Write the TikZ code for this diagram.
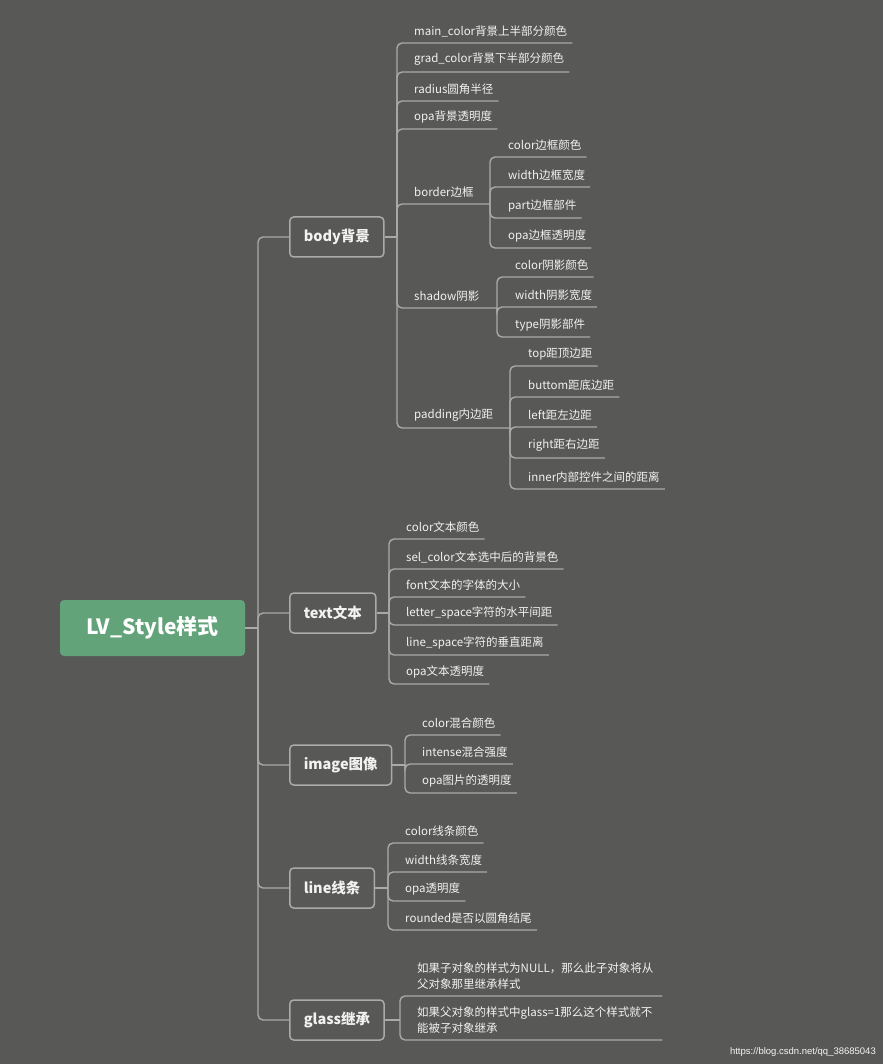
\documentclass[tikz,border=0pt]{standalone}
\usepackage{fontspec}
\setmainfont{Noto Sans CJK SC}
\newfontfamily\wm{Liberation Sans}
\definecolor{bg}{RGB}{88,89,86}
\definecolor{ln}{RGB}{170,170,168}
\definecolor{tx}{RGB}{242,242,240}
\definecolor{rootc}{RGB}{99,163,122}
\tikzset{
 conn/.style={draw=ln,line width=1.4pt,rounded corners=5pt},
 lf/.style={anchor=south west,inner xsep=0pt,inner ysep=6pt,text=tx,font=\fontsize{11.5}{13}\selectfont},
 lone/.style={anchor=west,draw=ln,line width=1.5pt,rounded corners=4pt,fill=bg,text=tx,minimum height=40pt,inner xsep=14pt,font=\fontsize{14.5}{16}\selectfont\bfseries},
}
\newcommand\lf[4]{\node[lf] (#1) at (#2,#3) {#4};}
\begin{document}
\begin{tikzpicture}[x=1pt,y=-1pt]
\fill[bg] (0,0) rectangle (883,1064);
\useasboundingbox (0,0) rectangle (883,1064);
\node[fill=rootc,rounded corners=4pt,minimum width=185pt,minimum height=56pt,text=white,font=\fontsize{21}{24}\selectfont\bfseries] (root) at (152.5,628) {LV\_Style样式};
\node[lone] (body) at (289,237) {body背景};
\node[lone] (text) at (289,613) {text文本};
\node[lone] (image) at (289,765) {image图像};
\node[lone] (line) at (289,888) {line线条};
\node[lone] (glass) at (289,1020) {glass继承};
\coordinate (mb) at (258,628);
\draw[conn] (root.east) -- (mb);
\foreach \n in {body,text,image,line,glass}{\draw[conn] (mb) |- (\n.west);}
% body
\coordinate (bb) at (397,237);
\draw[conn] (body.east) -- (bb);
\lf{b1}{414}{43}{main\_color背景上半部分颜色}
\lf{b2}{414}{72}{grad\_color背景下半部分颜色}
\lf{b3}{414}{101}{radius圆角半径}
\lf{b4}{414}{129}{opa背景透明度}
\foreach \n in {b1,b2,b3,b4}{\draw[conn] (bb) |- ([xshift=5pt]\n.south east);}
\lf{b5}{414}{204}{border边框}
\lf{b6}{414}{308}{shadow阴影}
\lf{b7}{414}{428}{padding内边距}
\coordinate (sb5) at (490,204);
\coordinate (sb6) at (497,308);
\coordinate (sb7) at (510,428);
\draw[conn] (bb) |- (sb5);
\draw[conn] (bb) |- (sb6);
\draw[conn] (bb) |- (sb7);
\lf{c1}{508}{157}{color边框颜色}
\lf{c2}{508}{187}{width边框宽度}
\lf{c3}{508}{218}{part边框部件}
\lf{c4}{508}{248}{opa边框透明度}
\foreach \n in {c1,c2,c3,c4}{\draw[conn] (sb5) |- ([xshift=5pt]\n.south east);}
\lf{d1}{515}{277}{color阴影颜色}
\lf{d2}{515}{307}{width阴影宽度}
\lf{d3}{515}{337}{type阴影部件}
\foreach \n in {d1,d2,d3}{\draw[conn] (sb6) |- ([xshift=5pt]\n.south east);}
\lf{e1}{528}{366}{top距顶边距}
\lf{e2}{528}{397}{buttom距底边距}
\lf{e3}{528}{427}{left距左边距}
\lf{e4}{528}{458}{right距右边距}
\lf{e5}{528}{489}{inner内部控件之间的距离}
\foreach \n in {e1,e2,e3,e4,e5}{\draw[conn] (sb7) |- ([xshift=5pt]\n.south east);}
% text
\coordinate (tb) at (389,613);
\draw[conn] (text.east) -- (tb);
\lf{t1}{406}{539}{color文本颜色}
\lf{t2}{406}{569}{sel\_color文本选中后的背景色}
\lf{t3}{406}{597}{font文本的字体的大小}
\lf{t4}{406}{625}{letter\_space字符的水平间距}
\lf{t5}{406}{655}{line\_space字符的垂直距离}
\lf{t6}{406}{684}{opa文本透明度}
\foreach \n in {t1,t2,t3,t4,t5,t6}{\draw[conn] (tb) |- ([xshift=5pt]\n.south east);}
% image
\coordinate (ib) at (405,765);
\draw[conn] (image.east) -- (ib);
\lf{i1}{422}{735}{color混合颜色}
\lf{i2}{422}{764}{intense混合强度}
\lf{i3}{422}{793}{opa图片的透明度}
\foreach \n in {i1,i2,i3}{\draw[conn] (ib) |- ([xshift=5pt]\n.south east);}
% line
\coordinate (lb) at (388,888);
\draw[conn] (line.east) -- (lb);
\lf{l1}{405}{843}{color线条颜色}
\lf{l2}{405}{872}{width线条宽度}
\lf{l3}{405}{901}{opa透明度}
\lf{l4}{405}{930}{rounded是否以圆角结尾}
\foreach \n in {l1,l2,l3,l4}{\draw[conn] (lb) |- ([xshift=5pt]\n.south east);}
% glass
\coordinate (gb) at (400,1020);
\draw[conn] (glass.east) -- (gb);
\node[lf,text width=245pt,align=left,font=\fontsize{11.5}{16}\selectfont] (g1) at (417,996) {如果子对象的样式为NULL，那么此子对象将从\\父对象那里继承样式};
\node[lf,text width=245pt,align=left,font=\fontsize{11.5}{16}\selectfont] (g2) at (417,1040) {如果父对象的样式中glass=1那么这个样式就不\\能被子对象继承};
\foreach \n in {g1,g2}{\draw[conn] (gb) |- (\n.south east);}
\node[anchor=east,text=tx!80,font=\wm\fontsize{9.5}{11}\selectfont,inner sep=0pt] (wmk) at (876,1052) {https://blog.csdn.net/qq\_38685043};
\end{tikzpicture}
\end{document}
